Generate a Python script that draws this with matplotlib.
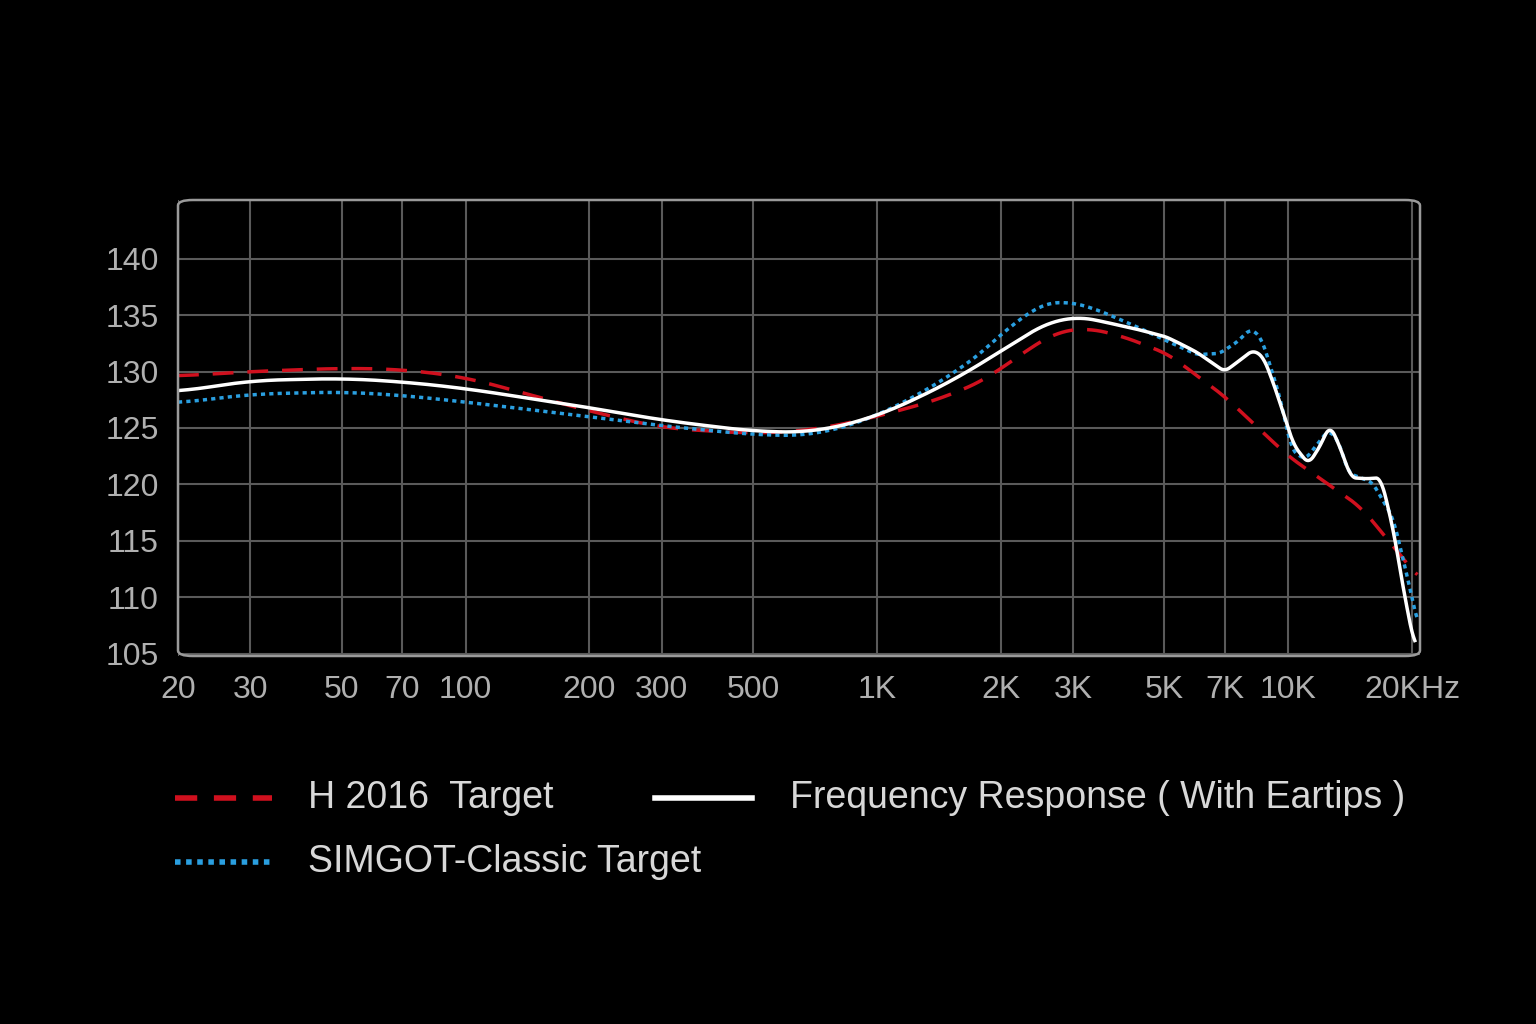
import numpy as np
import matplotlib.pyplot as plt
from matplotlib.patches import FancyBboxPatch
from matplotlib.lines import Line2D

plt.rcParams['font.family'] = ['Liberation Sans', 'DejaVu Sans']

fr_f = [20, 30, 50, 70, 100, 200, 300, 500, 700, 1000, 1500, 2000, 2500, 2800, 3000, 4000, 5000, 6000,
        7000, 7500, 8200, 8700, 9300, 10300, 11200, 12000, 12600, 13300, 14200, 15500, 16800, 18000, 19200, 20300]
fr_db = [128.2, 129.2, 129.4, 129.1, 128.5, 126.8, 125.7, 124.7, 124.6, 126.0, 129.0, 131.8, 134.0, 135.1, 135.0, 134.0, 133.2, 131.7,
         130.0, 130.8, 131.9, 131.3, 128.5, 123.5, 121.8, 123.5, 125.3, 123.5, 120.6, 120.5, 120.6, 116.0, 110.0, 105.6]

h_f = [20, 30, 50, 70, 100, 200, 300, 500, 700, 1000, 1500, 2000, 2500, 3000, 3500, 4000, 5000, 7000, 10000, 15000, 20000, 20600]
h_db = [129.6, 130.0, 130.3, 130.2, 129.5, 126.5, 125.0, 124.5, 124.8, 126.0, 127.8, 130.0, 133.0, 134.0, 133.8, 133.0, 131.8, 127.8, 122.5, 118.0, 112.5, 111.5]

s_f = [20, 30, 50, 70, 100, 200, 300, 500, 700, 1000, 1500, 2000, 2300, 2700, 3000, 4000, 5000, 6000, 6800, 7500, 8100, 8600,
       9500, 10200, 11000, 12500, 13200, 14000, 16000, 18000, 20000, 20600]
s_db = [127.2, 128.0, 128.2, 127.9, 127.3, 126.0, 125.2, 124.4, 124.3, 126.0, 129.5, 133.0, 135.5, 136.5, 136.3, 134.5, 132.8, 131.5, 131.6, 132.6, 133.8, 133.0,
        128.0, 123.0, 122.2, 124.8, 124.0, 121.0, 120.2, 117.0, 110.0, 107.5]

xticks = [20, 30, 50, 70, 100, 200, 300, 500, 1000, 2000, 3000, 5000, 7000, 10000, 20000]
xlabels = ['20', '30', '50', '70', '100', '200', '300', '500', '1K', '2K', '3K', '5K', '7K', '10K', '20KHz']
yticks = [105, 110, 115, 120, 125, 130, 135, 140]


def box(y, k):
    pad = np.pad(y, k, mode='edge')
    return np.convolve(pad, np.ones(2 * k + 1) / (2 * k + 1), mode='same')[k:-k]


def smooth(f, db, n=3000, k_hi=12, k_lo=80):
    lx = np.linspace(np.log10(f[0]), np.log10(f[-1]), n)
    y = np.interp(lx, np.log10(f), db)
    lo, hi = box(y, k_lo), box(y, k_hi)
    w = np.clip((lx - np.log10(4000)) / 0.15, 0, 1)
    return 10 ** lx, lo * (1 - w) + hi * w


fig = plt.figure(figsize=(15.36, 10.24), dpi=100, facecolor='black')
ax = fig.add_axes([178 / 1536, 1 - 656 / 1024, (1420 - 178) / 1536, (656 - 200) / 1024])
ax.set_facecolor('black')
ax.set_xscale('log')
ax.set_xlim(20, 20900)
ax.set_ylim(104.8, 145.2)
for s in ax.spines.values():
    s.set_visible(False)
ax.set_xticks(xticks)
ax.set_xticklabels(xlabels)
ax.minorticks_off()
ax.set_yticks(yticks)
ax.tick_params(length=0, colors='#b0b0b0', labelsize=23, pad=14)
ax.grid(True, color='#5a5a5a', lw=1.5)
ax.add_patch(FancyBboxPatch((0, 0), 1, 1, boxstyle='round,pad=0,rounding_size=0.012',
                            transform=ax.transAxes, fill=False, ec='#9a9a9a', lw=1.8, clip_on=False, zorder=5))

x, y = smooth(h_f, h_db, k_hi=30)
ax.plot(x, y, color='#d0101e', lw=2.5, ls=(0, (6, 4)), zorder=3)
x, y = smooth(s_f, s_db)
ax.plot(x, y, color='#2a9fe0', lw=2.5, ls=(0, (1.2, 1.2)), zorder=3)
x, y = smooth(fr_f, fr_db)
ax.plot(x, y, color='white', lw=2.5, zorder=4)

def leg(x0, x1, yy, text, tx, **kw):
    fig.add_artist(Line2D([x0 / 1536, x1 / 1536], [1 - yy / 1024] * 2, lw=4, **kw))
    fig.text(tx / 1536, 1 - yy / 1024, text, color='#d8d8d8', fontsize=27, va='center')

leg(175, 272, 798, 'H 2016  Target', 308, color='#d0101e', ls=(0, (4, 3)))
leg(655, 752, 798, 'Frequency Response ( With Eartips )', 790, color='white')
leg(175, 272, 862, 'SIMGOT-Classic Target', 308, color='#2a9fe0', ls=(0, (1, 1)))

fig.savefig('out.png', facecolor='black')
